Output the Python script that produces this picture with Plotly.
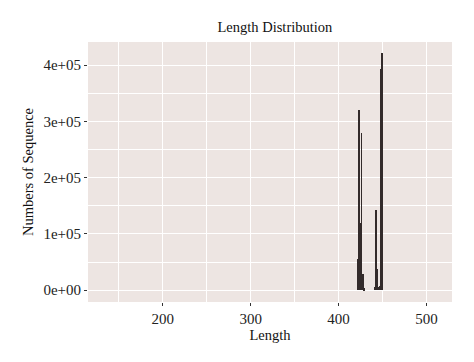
import plotly.graph_objects as go

lengths = [422, 423, 424, 425, 426, 427, 428, 429,
           441, 442, 443, 444, 445, 446, 447, 448, 449, 450]
counts = [55000, 320000, 120000, 120000, 280000, 5000, 29000, 3000,
          5000, 38000, 143000, 38000, 5000, 5000, 8000, 393000, 422000, 5000]

x_ticks = [200, 300, 400, 500]
x_minor = [150, 250, 350, 450]
y_ticks = [0, 100000, 200000, 300000, 400000]
y_labels = ["0e+00", "1e+05", "2e+05", "3e+05", "4e+05"]
y_minor = [50000, 150000, 250000, 350000]

font_family = "Liberation Serif"

fig = go.Figure(go.Bar(
    x=lengths, y=counts, width=1,
    marker=dict(color="#332b2b", line=dict(width=0)),
))

fig.update_layout(
    width=474, height=362,
    margin=dict(l=88, r=22, t=42, b=60),
    paper_bgcolor="white",
    plot_bgcolor="#EDE5E2",
    bargap=0,
    showlegend=False,
    font=dict(family=font_family, color="#222222", size=13),
    title=dict(text="Length Distribution", x=0.58, xanchor="center",
               y=0.925, yanchor="middle",
               font=dict(family=font_family, size=14.5, color="#111111")),
)

fig.update_xaxes(
    range=[115, 529],
    tickvals=x_ticks, ticktext=[str(v) for v in x_ticks],
    showgrid=True, gridcolor="white", gridwidth=1.1,
    minor=dict(tickvals=x_minor, showgrid=True, gridcolor="white", gridwidth=0.5, ticks=""),
    ticks="outside", ticklen=3, tickcolor="#333333", tickwidth=1,
    zeroline=False, showline=False,
    tickfont=dict(family=font_family, size=15, color="#222222"),
    title=dict(text="Length", font=dict(family=font_family, size=14.5, color="#111111"), standoff=0),
)

fig.update_yaxes(
    range=[-21000, 441000],
    tickvals=y_ticks, ticktext=y_labels,
    showgrid=True, gridcolor="white", gridwidth=1.1,
    minor=dict(tickvals=y_minor, showgrid=True, gridcolor="white", gridwidth=0.5, ticks=""),
    ticks="outside", ticklen=3, tickcolor="#333333", tickwidth=1,
    zeroline=False, showline=False,
    tickfont=dict(family=font_family, size=15, color="#222222"),
    title=dict(text="Numbers of Sequence", font=dict(family=font_family, size=14.5, color="#111111"), standoff=6),
)

fig.write_html("out.html")
